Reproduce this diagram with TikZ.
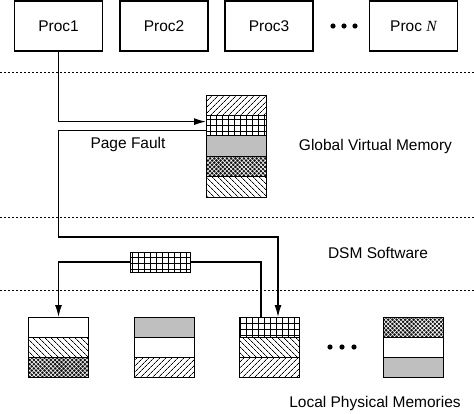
\documentclass[tikz,border=0pt]{standalone}
\usepackage{fontspec}
\setmainfont{Liberation Sans}
\newfontfamily\timesfam{Liberation Serif}
\usetikzlibrary{patterns.meta,arrows.meta,positioning}
\tikzset{
  procbox/.style={draw, line width=1.1pt, minimum width=88pt, minimum height=50pt, inner sep=0pt, font=\fontsize{15.5}{18}\selectfont},
  seg/.style={draw, line width=1pt, minimum width=60pt, minimum height=20pt, inner sep=0pt, outer sep=0pt},
  hatchne/.style={pattern={Lines[angle=45,distance=4pt,line width=0.7pt]}},
  hatchnw/.style={pattern={Lines[angle=-45,distance=4pt,line width=0.7pt]}},
  gridp/.style={pattern={Hatch[angle=0,distance=6pt,line width=0.7pt]}},
  grayp/.style={fill=gray!50},
  darkp/.style={preaction={fill=black!92}, pattern={Hatch[angle=45,distance=3pt,line width=0.6pt]}, pattern color=white},
  whitep/.style={fill=white},
  sep/.style={line width=0.9pt, dash pattern=on 2.2pt off 1.8pt},
  conn/.style={line width=1.2pt},
  arr/.style={-{Latex[length=12pt,width=7pt]}},
  lab/.style={font=\fontsize{15.5}{18}\selectfont, inner sep=0pt},
}
\begin{document}
\begin{tikzpicture}[x=1pt,y=-1pt]
\useasboundingbox (0,0) rectangle (474,413);
% separators
\coordinate (s1a) at (0,72); \coordinate (s1b) at (474,72);
\coordinate (s2a) at (0,217); \coordinate (s2b) at (474,217);
\coordinate (s3a) at (0,290); \coordinate (s3b) at (474,290);
\draw[sep] (s1a) -- (s1b);
\draw[sep] (s2a) -- (s2b);
\draw[sep] (s3a) -- (s3b);
% processors
\node[procbox] (p1) at (58.5,26) {Proc1};
\node[procbox] (p2) at (164,26) {Proc2};
\node[procbox] (p3) at (269,26) {Proc3};
\node[procbox] (pn) at (413.5,26) {Proc {\timesfam\itshape N}};
\foreach \x in {333,344,355} \fill (\x,26) circle (2.6pt);
% global virtual memory
\node[seg,hatchne,minimum height=20.4pt] (g1) at (236,105.2) {};
\node[seg,gridp,minimum height=20.4pt,below=0pt of g1] (g2) {};
\node[seg,grayp,minimum height=20.4pt,below=0pt of g2] (g3) {};
\node[seg,darkp,minimum height=20.4pt,below=0pt of g3] (g4) {};
\node[seg,hatchnw,minimum height=20.4pt,below=0pt of g4] (g5) {};
% local memories
\node[seg,whitep] (b11) at (58.5,327) {};
\node[seg,hatchnw,below=0pt of b11] (b12) {};
\node[seg,darkp,below=0pt of b12] (b13) {};
\node[seg,grayp] (b21) at (164,327) {};
\node[seg,whitep,below=0pt of b21] (b22) {};
\node[seg,hatchne,below=0pt of b22] (b23) {};
\node[seg,gridp] (b31) at (269,327) {};
\node[seg,hatchnw,below=0pt of b31] (b32) {};
\node[seg,hatchne,below=0pt of b32] (b33) {};
\node[seg,darkp] (b41) at (413,327) {};
\node[seg,whitep,below=0pt of b41] (b42) {};
\node[seg,grayp,below=0pt of b42] (b43) {};
\foreach \x in {330,342,354} \fill (\x,347) circle (2.6pt);
% packet
\node[seg,gridp] (pk) at (160,262) {};
% labels
\node[lab] (lpf) at (128,144) {Page Fault};
\node[lab] (lgv) at (375.5,146) {Global Virtual Memory};
\node[lab] (lds) at (378,253) {DSM Software};
\node[lab] (llp) at (375,403) {Local Physical Memories};
% connectors
\coordinate (k1) at (58.5,237);
\draw[conn,arr] (p1.south) |- ([yshift=4pt]g2.west);
\draw[conn,arr] ([yshift=-5pt]g2.west) -| (k1) -| ([xshift=9pt]b31.north);
\draw[conn] (pk.east) -| ([xshift=-8pt]b31.north);
\draw[conn,arr] (pk.west) -| (b11.north);
\end{tikzpicture}
\end{document}
